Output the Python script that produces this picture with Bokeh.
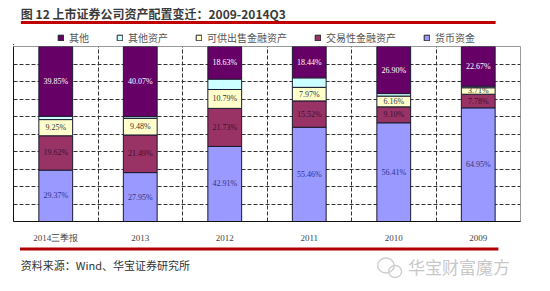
import pandas as pd
from bokeh.plotting import figure
from bokeh.layouts import column
from bokeh.models import (ColumnDataSource, LabelSet, Legend, LegendItem, FixedTicker)
from bokeh.core.properties import value
from bokeh.embed import file_html
from bokeh.resources import INLINE

# ---------------- data ----------------
categories = ["2014三季报", "2013", "2012", "2011", "2010", "2009"]
cash = [29.37, 27.95, 42.91, 55.46, 56.41, 64.95]          # 货币资金
trading = [19.62, 21.49, 21.73, 15.52, 9.10, 7.78]         # 交易性金融资产
afs = [9.25, 9.48, 10.79, 7.97, 6.16, 3.71]                # 可供出售金融资产
other_assets = [1.91, 1.01, 5.94, 5.60, 1.43, 0.89]        # 其他资产 (estimated)
other = [39.85, 40.07, 18.63, 18.44, 26.90, 22.67]         # 其他

series_names = ["货币资金", "交易性金融资产", "可供出售金融资产", "其他资产", "其他"]
series_vals = [cash, trading, afs, other_assets, other]
series_colors = ["#9999FF", "#993366", "#FFFFCC", "#CCFFFF", "#660066"]
label_colors = ["#333388", "#3a1030", "#333333", None, "#FFFFFF"]
keys = ["s0", "s1", "s2", "s3", "s4"]

title_text = "图 12 上市证券公司资产配置变迁：2009-2014Q3"
source_text = "资料来源：Wind、华宝证券研究所"
watermark_text = "华宝财富魔方"

df = pd.DataFrame({"cat": categories})
raw = pd.DataFrame({k: v for k, v in zip(keys, series_vals)})
total = raw.sum(axis=1)
for k in keys:
    df[k] = raw[k] / total * 100.0
cum = df[keys].cumsum(axis=1)
for k in keys:
    df[k + "_mid"] = cum[k] - df[k] / 2.0
    df[k + "_txt"] = ["%.2f%%" % v for v in raw[k]]
src = ColumnDataSource(df)

W = 550
TOP_H, MAIN_H, BOT_H = 45, 200, 46

# ---------------- top strip: title + red rule + legend ----------------
top = figure(width=W, height=TOP_H, x_range=(0, W), y_range=(0, TOP_H),
             x_axis_type=None, y_axis_type=None, output_backend="svg",
             toolbar_location=None, min_border=0)
top.outline_line_color = None
top.grid.visible = False
top.text(x=[8], y=[32], text=[title_text], text_font=value("Noto Sans CJK SC"),
         text_font_size="12px", text_font_style="bold", text_color="#3a3a3a",
         text_baseline="middle", text_align="left")
top.quad(left=[8], right=[523], bottom=[21.5], top=[24.5], fill_color="#C00000",
         line_color=None)

# legend swatches: one-row renderers placed outside the visible strip
swatches = []
for c in series_colors:
    swatches.append(top.vbar(x=[-100], top=[1], width=1, fill_color=c,
                             line_color="#222222", line_width=1))
items = [LegendItem(label=series_names[i], renderers=[swatches[i]])
         for i in range(4, -1, -1)]
legend = Legend(items=items, orientation="horizontal", location=(44, 0),
                spacing=27, padding=0, margin=0, glyph_width=7, glyph_height=7,
                label_standoff=5, label_text_font="Noto Sans CJK SC",
                label_text_font_size="10px", label_text_color="#555555",
                label_height=10, border_line_color=None, background_fill_alpha=0)
top.add_layout(legend)

# ---------------- main chart ----------------
p = figure(x_range=categories, y_range=(0, 100), width=W, height=MAIN_H,
           output_backend="svg", toolbar_location=None,
           min_border_left=13, min_border_right=30,
           min_border_top=1, min_border_bottom=18)
p.background_fill_color = "white"
p.border_fill_color = "white"
p.outline_line_color = "#9a9a9a"
p.outline_line_width = 1

rs = p.vbar_stack(keys, x="cat", width=0.4, source=src, color=series_colors,
                  line_color="#1a1a2e", line_width=1)

p.yaxis.major_label_text_font_size = "0px"
p.yaxis.major_tick_line_color = None
p.yaxis.minor_tick_line_color = None
p.yaxis.axis_line_color = "#111111"
p.yaxis.ticker = FixedTicker(ticks=[])

p.xaxis.axis_line_color = "#111111"
p.xaxis.major_tick_line_color = None
p.xaxis.minor_tick_line_color = None
p.xaxis.major_label_text_font = "Liberation Serif"
p.xaxis.major_label_text_font_size = "9px"
p.xaxis.major_label_text_color = "#444444"
p.xaxis.major_label_standoff = 5

p.ygrid.ticker = FixedTicker(ticks=[10, 20, 30, 40, 50, 60, 70, 80, 90])
p.xgrid.ticker = FixedTicker(ticks=[1, 2, 3, 4, 5])
for g in (p.xgrid, p.ygrid):
    g.grid_line_color = "#333333"
    g.grid_line_dash = "4 2"
    g.grid_line_width = 1
    g.level = "underlay"

for i, k in enumerate(keys):
    if label_colors[i] is None:
        continue
    p.add_layout(LabelSet(x="cat", y=k + "_mid", text=k + "_txt", source=src,
                          text_align="center", text_baseline="middle",
                          text_font=value("Liberation Serif"), text_font_size="8px",
                          text_color=label_colors[i]))

# ---------------- bottom strip: red rule + source + watermark ----------------
bot = figure(width=W, height=BOT_H, x_range=(0, W), y_range=(0, BOT_H),
             x_axis_type=None, y_axis_type=None, output_backend="svg",
             toolbar_location=None, min_border=0)
bot.outline_line_color = None
bot.grid.visible = False
bot.quad(left=[7], right=[526], bottom=[41], top=[44], fill_color="#B00000",
         line_color=None)
bot.text(x=[8], y=[27], text=[source_text], text_font=value("Noto Sans CJK SC"),
         text_font_size="11px", text_color="#333333", text_baseline="middle",
         text_align="left")
bot.ellipse(x=[404], y=[26], width=[18], height=[15], fill_color=None,
            line_color="#cfcfcf", line_width=1.5)
bot.ellipse(x=[414], y=[20], width=[14], height=[12], fill_color=None,
            line_color="#cfcfcf", line_width=1.5)
bot.text(x=[428], y=[25], text=[watermark_text], text_font=value("Noto Sans CJK SC"),
         text_font_size="17px", text_color="#c8c8c8", text_baseline="middle",
         text_align="left")

layout = column(top, p, bot, spacing=0)
open("out.html", "w").write(file_html(layout, INLINE))
